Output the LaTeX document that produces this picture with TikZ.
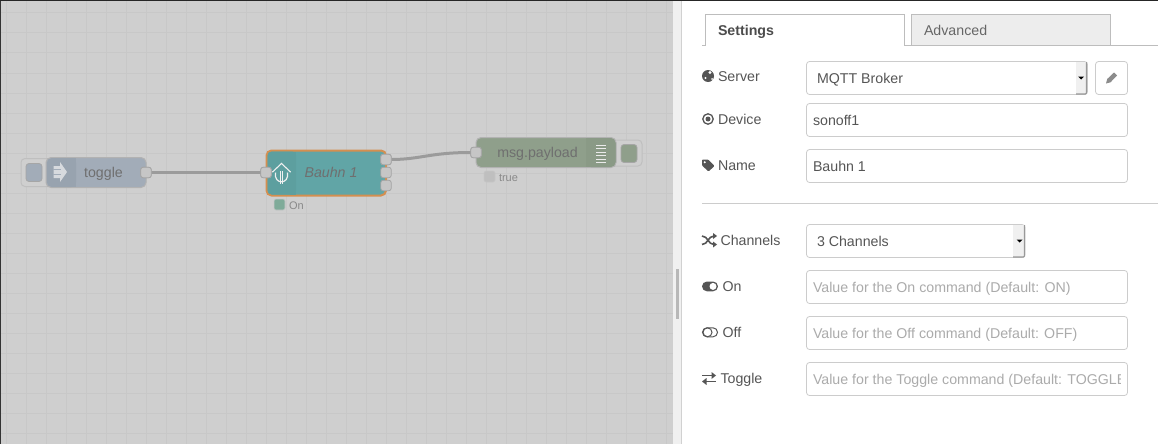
\documentclass[tikz,border=0pt]{standalone}
\usepackage{fontspec}
\setmainfont{Liberation Sans}
\definecolor{canvas}{HTML}{CFCFCF}
\definecolor{gridc}{HTML}{C8C8C8}
\definecolor{portc}{HTML}{C6C6C6}
\definecolor{portb}{HTML}{A4A4A4}
\definecolor{wirec}{HTML}{9B9B9B}
\definecolor{injectc}{HTML}{A2ACB8}
\definecolor{injectd}{HTML}{98A3AF}
\definecolor{tealc}{HTML}{61A5A6}
\definecolor{teald}{HTML}{5D9F9F}
\definecolor{orangec}{HTML}{D48F50}
\definecolor{greenc}{HTML}{8F9F8B}
\definecolor{greend}{HTML}{8A9A86}
\definecolor{dimtxt}{HTML}{6F6F6F}
\definecolor{labtxt}{HTML}{555555}
\definecolor{fieldb}{HTML}{CCCCCC}
\definecolor{holder}{HTML}{ABABAB}
\definecolor{tabb}{HTML}{BDBDBD}
\definecolor{stgreen}{HTML}{7FAB99}
\newcommand{\fs}{\fontsize{14.2}{16}\selectfont}
\tikzset{
  x=1pt,y=-1pt,
  every node/.style={inner sep=0pt,outer sep=0pt},
  port/.style={draw=portb,fill=portc,line width=0.8pt,rounded corners=2.5pt,minimum width=10.5pt,minimum height=10.5pt,shape=rectangle},
  wire/.style={draw=wirec,line width=3pt},
  canvaslabel/.style={font=\fs,text=dimtxt,anchor=base},
  statustext/.style={font=\fontsize{11}{13}\selectfont,text=holder!80!black,anchor=base west},
  formlabel/.style={font=\fs,text=labtxt,anchor=base west},
  field/.style={draw=fieldb,line width=0.8pt,rounded corners=3pt,fill=white,anchor=north west,minimum height=33pt,shape=rectangle},
  fieldtext/.style={font=\fs,text=labtxt,anchor=base west},
  holdertext/.style={font=\fs,text=holder,anchor=base west},
}
\begin{document}
\begin{tikzpicture}
\useasboundingbox (0,0) rectangle (1158,444);
% background
\fill[white] (0,0) rectangle (1158,444);
\fill[canvas] (0,0) rectangle (673,444);
\foreach \gx in {0,20,...,660} \draw[gridc,line width=1pt] (\gx+6.5,0) -- (\gx+6.5,444);
\foreach \gy in {13,33,...,433} \draw[gridc,line width=1pt] (0,\gy) -- (673,\gy);
\fill[black!80] (0,0) rectangle (1,444);
% divider
\fill[black!6] (673,0) rectangle (681,444);
\fill[black!18] (681,0) rectangle (682,444);
\fill[black!28] (676,269) rectangle (679,319);
\fill[black!85] (0,0) rectangle (1158,1);

% inject node
\draw[fill=canvas,draw=black!25,line width=1pt,rounded corners=4pt] (21,158.5) rectangle (60,186.5);
\fill[draw=black!35,fill=injectc,rounded corners=3pt,line width=0.8pt] (26,163.5) rectangle (42,181.5);
\draw[draw=black!30,fill=injectc,line width=1pt,rounded corners=5pt] (46,157.5) rectangle (146,187.5);
\fill[injectd,rounded corners=5pt] (47,158) rectangle (76,187);
\fill[injectd] (70,158) rectangle (76,187);
\fill[black!5,opacity=.7] (53.5,166) -- (60,166) -- (60,162) -- (67,172) -- (60,182) -- (60,178) -- (53.5,178) -- cycle;
\draw[injectc,line width=1pt] (53,169.5) -- (61,169.5) (53,174.5) -- (61,174.5);
\node[canvaslabel] (toggle) at (103.5,177) {toggle};
\node[port] (togout) at (146,172.5) {};

% Bauhn node
\draw[draw=orangec,fill=tealc,line width=2pt,rounded corners=5pt] (266.5,150.5) rectangle (386,195.5);
\fill[teald,rounded corners=4pt] (267.5,151.5) rectangle (296,194.5);
\fill[teald] (290,151.5) rectangle (296,194.5);
\draw[black!6,line width=1.1pt,line cap=round] (272.5,172) -- (281.5,163.5) -- (290.5,172);
\draw[black!6,line width=1.2pt] (275.5,172.5) .. controls (273.5,185) and (289.5,185) .. (287.5,172.5);
\draw[black!6,line width=.8pt] (280.3,171) -- (280.3,184) (282.7,171) -- (282.7,184);
\node[font=\fs\itshape,text=dimtxt,anchor=base] (bauhn) at (331,177) {Bauhn 1};
\node[port] (bin) at (266,172.5) {};
\node[port] (bout1) at (386,159.5) {};
\node[port] (bout2) at (386,172.5) {};
\node[port] (bout3) at (386,185.5) {};
\fill[draw=black!22,fill=stgreen,rounded corners=2pt,line width=.6pt] (274,199) rectangle (285,210);
\node[statustext] (onst) at (289,209) {On};

% debug node
\draw[fill=canvas,draw=black!25,line width=1pt,rounded corners=4pt] (600,140) rectangle (642,166);
\fill[draw=black!35,fill=greenc,rounded corners=3pt,line width=.8pt] (621,144.5) rectangle (637,162.5);
\draw[draw=black!30,fill=greenc,line width=1pt,rounded corners=5pt] (476,137.5) rectangle (616,167.5);
\fill[greend,rounded corners=5pt] (586,138) rectangle (615.5,167);
\fill[greend] (586,138) rectangle (592,167);
\foreach \ly in {145,148.5,...,162.5} \draw[black!8,line width=.9pt] (596,\ly) -- (606,\ly);
\node[canvaslabel] (msg) at (537.5,157) {msg.payload};
\node[port] (dbin) at (476,152.5) {};
\fill[draw=black!22,fill=black!25,rounded corners=2pt,line width=.6pt] (484,171) rectangle (495,182);
\node[statustext] (truest) at (499,181) {true};

% wires
\draw[wire] (togout.east) -- (bin.west);
\draw[wire] (bout1.east) .. controls (420,159.5) and (430,152.5) .. (dbin.west);
\node[port] at (146,172.5) {};
\node[port] at (266,172.5) {};
\node[port] at (386,159.5) {};
\node[port] at (476,152.5) {};

% tabs
\draw[tabb,line width=.8pt] (702,45.5) -- (705,45.5) -- (705,14.5) -- (904.5,14.5) -- (904.5,45.5) -- (1158,45.5);
\draw[tabb,fill=black!7,line width=.8pt] (911.5,45.5) -- (911.5,14.5) -- (1110.5,14.5) -- (1110.5,45.5);
\node[font=\fs\bfseries,text=labtxt!90!black,anchor=base west] (tabs) at (718,35.5) {Settings};
\node[font=\fs,text=black!60,anchor=base west] (taba) at (924,35.5) {Advanced};

% Server row
\fill[labtxt] (708,76) circle (6);
\fill[white] (710,72.5) circle (1.7) (705.5,78) circle (1.2) (712,79) circle (1);
\node[formlabel] (lserver) at (718,81.5) {Server};
\node[field,minimum width=281pt] (fserver) at (806.5,61.5) {};
\fill[black!6] (1076,62) rectangle (1086,94);
\draw[black!40,line width=1.2pt,rounded corners=1pt] (1086.5,62) -- (1086.5,94) -- (1076,94);
\fill[black] (1078,76.5) -- (1084,76.5) -- (1081,79.5) -- cycle;
\node[fieldtext] (tserver) at (817,83) {MQTT Broker};
\node[field,minimum width=32pt] (fpen) at (1095.5,61.5) {};
\fill[black!45] (1106,83.5) -- (1107.2,79) -- (1114,72.5) -- (1117,75.5) -- (1110.5,82.3) -- cycle;

% Device row
\draw[labtxt,line width=1.3pt] (708,119) circle (5.2);
\fill[labtxt] (708,119) circle (2.5);
\node[formlabel] (ldevice) at (718,124) {Device};
\node[field,minimum width=321pt] (fdevice) at (806.5,103.5) {};
\node[fieldtext] (tdevice) at (813,125) {sonoff1};

% Name row
\fill[labtxt,rounded corners=.8pt] (702,159.5) -- (708,159.5) -- (714.5,166) -- (708.5,171.5) -- (702,165.5) -- cycle;
\fill[white] (704.7,162.2) circle (1.1);
\node[formlabel] (lname) at (718,170) {Name};
\node[field,minimum width=321pt] (fname) at (806.5,149.5) {};
\node[fieldtext] (tname) at (813,171) {Bauhn 1};

\draw[black!20,line width=.8pt] (702,203.5) -- (1158,203.5);

% Channels
\draw[labtxt,line width=1.6pt] (702,236) .. controls (708,236) and (708,244.5) .. (714,244.5);
\draw[labtxt,line width=1.6pt] (702,244.5) .. controls (708,244.5) and (708,236) .. (714,236);
\fill[labtxt] (713,233) -- (717,236) -- (713,239) -- cycle (713,241.5) -- (717,244.5) -- (713,247.5) -- cycle;
\node[formlabel] (lchan) at (720.5,245) {Channels};
\node[field,minimum width=218.5pt] (fchan) at (806.5,224.5) {};
\fill[black!6] (1013,225) rectangle (1024.5,257);
\draw[black!40,line width=1.2pt,rounded corners=1pt] (1024.5,225) -- (1024.5,257) -- (1013,257);
\fill[black] (1016.5,239.5) -- (1022.5,239.5) -- (1019.5,242.5) -- cycle;
\node[fieldtext] (tchan) at (817,246) {3 Channels};

% On
\fill[labtxt,rounded corners=4.9pt] (702,281.5) rectangle (718,291.3);
\fill[white] (713,286.4) circle (3.5);
\node[formlabel] (lon) at (722.5,291) {On};
\node[field,minimum width=321pt] (fon) at (806.5,270.5) {};
\node[holdertext] (ton) at (813,292) {Value for the On command (Default: ON)};

% Off
\draw[labtxt,line width=1pt,rounded corners=4.5pt] (702.5,327.8) rectangle (717.5,336.8);
\draw[labtxt,line width=1pt] (707.5,332.3) circle (4.5);
\node[formlabel] (loff) at (722.5,337) {Off};
\node[field,minimum width=321pt] (foff) at (806.5,316.5) {};
\node[holdertext] (toff) at (813,338) {Value for the Off command (Default: OFF)};

% Toggle
\draw[labtxt,line width=1.6pt] (702,375.5) -- (712,375.5);
\fill[labtxt] (711.5,372) -- (716,375.5) -- (711.5,379) -- cycle;
\draw[labtxt,line width=1.6pt] (706,381.5) -- (716,381.5);
\fill[labtxt] (706.5,378) -- (702,381.5) -- (706.5,385) -- cycle;
\node[formlabel] (ltog) at (720.5,383) {Toggle};
\node[field,minimum width=321pt] (ftog) at (806.5,362.5) {};
\begin{scope}
\clip (806,362) rectangle (1120.5,396);
\node[holdertext] (ttog) at (813,384) {Value for the Toggle command (Default: TOGGLE)};
\end{scope}
\end{tikzpicture}
\end{document}
